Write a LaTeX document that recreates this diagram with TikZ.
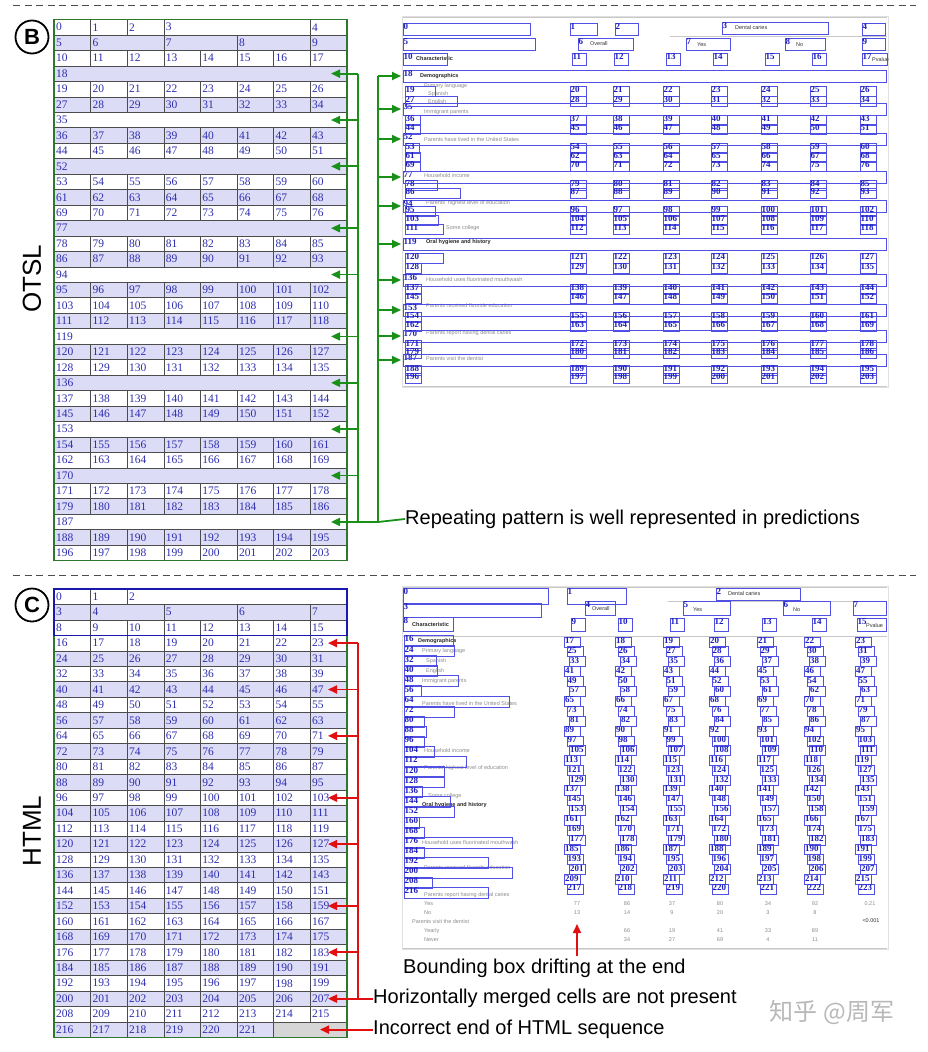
\documentclass[tikz,border=0pt]{standalone}
\usepackage{fontspec}
\setmainfont{Liberation Serif}
\setsansfont{Liberation Sans}
\newfontfamily\cjk{Noto Sans CJK SC}
\usetikzlibrary{arrows.meta}
\definecolor{numblue}{RGB}{45,45,175}
\definecolor{rowshade}{RGB}{220,220,246}
\definecolor{tgreen}{RGB}{45,120,45}
\definecolor{hblue}{RGB}{25,25,175}
\definecolor{boxblue}{RGB}{80,80,228}
\definecolor{labblue}{RGB}{30,30,190}
\definecolor{arrgreen}{RGB}{25,145,25}
\definecolor{arrred}{RGB}{225,15,15}
\definecolor{cellgray}{RGB}{214,214,214}
\tikzset{
  tnum/.style={anchor=west,inner sep=0pt,text=numblue,font=\fontsize{11.5}{12}\selectfont},
  gridln/.style={draw=black!70,line width=0.6pt},
  bbox/.style={draw=boxblue,line width=0.9pt},
  blab/.style={anchor=north west,inner sep=0.3pt,text=labblue,font=\bfseries\fontsize{9}{9}\selectfont},
  dtext/.style={anchor=west,inner sep=0pt,text=black!45,font=\sffamily\fontsize{5.5}{6}\selectfont},
  dval/.style={inner sep=0pt,text=black!45,font=\sffamily\fontsize{5.5}{6}\selectfont},
  dhead/.style={anchor=west,inner sep=0pt,text=black!85,font=\sffamily\bfseries\fontsize{5.5}{6}\selectfont},
  drule/.style={draw=black!22,line width=0.7pt},
  gline/.style={draw=arrgreen,line width=1.8pt},
  garr/.style={gline,-{Triangle[length=9pt,width=8pt]}},
  rline/.style={draw=arrred,line width=1.8pt},
  rarr/.style={rline,-{Triangle[length=9pt,width=8pt]}},
  notetext/.style={anchor=west,inner sep=0pt,font=\sffamily\fontsize{20}{21}\selectfont},
  sidetext/.style={font=\sffamily\fontsize{26}{26}\selectfont,rotate=90,inner sep=0pt},
  circlbl/.style={circle,draw,line width=1.8pt,minimum size=33pt,inner sep=0pt,font=\sffamily\bfseries\fontsize{22}{22}\selectfont},
  dashsep/.style={draw=black!70,line width=0.9pt,dash pattern=on 7pt off 4.5pt},
}
\def\rh{15.46}
\def\cw{36.6}
\def\ty{19.5}
\newcommand\fullrow[3]{%
  \pgfmathsetmacro\yt{\ty+#2*\rh}%
  \foreach \c in {0,...,7}{%
    \pgfmathtruncatemacro\n{#3+\c}%
    \node[tnum] (#1\n) at ({54+\c*\cw+1.8},{\yt+\rh/2}) {\n};}%
  \foreach \c in {1,...,7}{\draw[gridln] ({54+\c*\cw},\yt) -- ++(0,\rh);}%
}
\newcommand\cellat[4]{\node[tnum] (#1#4) at ({54+#3*\cw+1.8},{\ty+#2*\rh+\rh/2}) {#4};}
\newcommand\vsep[2]{\draw[gridln] ({54+#2*\cw},{\ty+#1*\rh}) -- ++(0,\rh);}
\newcommand\bb[6]{%
  \draw[bbox] ({#2},{#3}) rectangle ({#4},{#5});
  \node[blab] (#1#6) at ({#2},{#3}) {#6};}
\newcommand\brow[4]{%
  \pgfmathsetmacro\yy{#2}%
  \bb{#1}{405}{\yy-5}{405+#4}{\yy+5}{#3}%
  \foreach \i/\xx in {1/578,2/621,3/671,4/719,5/769,6/818,7/868}{%
    \pgfmathtruncatemacro\n{#3+\i}%
    \bb{#1}{\xx-8}{\yy-5}{\xx+8}{\yy+5}{\n}}%
}
\newcommand\crow[2]{%
  \pgfmathtruncatemacro\lab{16+8*#1}%
  \pgfmathsetmacro\yl{641+10.08*#1}%
  \pgfmathsetmacro\yv{642+9.9*#1}%
  \pgfmathsetmacro\xo{2.5*mod(#1,3)-2.5}%
  \bb{dC}{404}{\yl-5.5}{404+#2}{\yl+5.5}{\lab}%
  \foreach \i/\xx in {1/575,2/626,3/674,4/720,5/768,6/815,7/866}{%
    \pgfmathtruncatemacro\n{\lab+\i}%
    \bb{dC}{\xx-8+\xo}{\yv-5}{\xx+8+\xo}{\yv+5}{\n}}%
}
\begin{document}
\begin{tikzpicture}[x=1pt,y=-1pt]
\useasboundingbox (0,0) rectangle (927,1052);
\fill[white] (0,0) rectangle (927,1052);
% separators and panel labels
\coordinate (s1a) at (13,5); \coordinate (s1b) at (916,5);
\draw[dashsep] (s1a) -- (s1b);
\coordinate (s2a) at (13,575); \coordinate (s2b) at (916,575);
\draw[dashsep] (s2a) -- (s2b);
\node[circlbl] (lb) at (32,37) {B};
\node[circlbl] (lc) at (32,605) {C};
\node[sidetext] (otsl) at (32,279) {OTSL};
\node[sidetext] (html) at (32,831) {HTML};

% ================= B table =================
\def\ty{19.5}
\foreach \r in {1,3,...,33} \fill[rowshade] (54,{\ty+\r*\rh}) rectangle (347,{\ty+(\r+1)*\rh});
\foreach \r in {1,...,34} \draw[gridln] (54,{\ty+\r*\rh}) -- (347,{\ty+\r*\rh});
\cellat{b}{0}{0}{0}\cellat{b}{0}{1}{1}\cellat{b}{0}{2}{2}\cellat{b}{0}{3}{3}\cellat{b}{0}{7}{4}
\vsep{0}{1}\vsep{0}{2}\vsep{0}{3}\vsep{0}{7}
\cellat{b}{1}{0}{5}\cellat{b}{1}{1}{6}\cellat{b}{1}{3}{7}\cellat{b}{1}{5}{8}\cellat{b}{1}{7}{9}
\vsep{1}{1}\vsep{1}{3}\vsep{1}{5}\vsep{1}{7}
\foreach \rr/\ss in {2/10,4/19,5/27,7/36,8/44,10/53,11/61,12/69,14/78,15/86,17/95,18/103,19/111,21/120,22/128,24/137,25/145,27/154,28/162,30/171,31/179,33/188,34/196}{\fullrow{b}{\rr}{\ss}}
\foreach \rr/\ss in {3/18,6/35,9/52,13/77,16/94,20/119,23/136,26/153,29/170,32/187}{\node[tnum] (b\ss) at (55.8,{\ty+(\rr+0.5)*\rh}) {\ss};}
\draw[draw=tgreen,line width=1.6pt] (54,\ty) rectangle (347,{\ty+35*\rh});

% ================= B document =================
\draw[draw=black!12,line width=0.6pt] (402,16) rectangle (888,387);
\draw[drule] (403,17) -- (887,17);
\draw[drule] (670,36) -- (887,36);
\draw[drule] (403,386) -- (887,386);
\node[dtext,text=black!80] (bdc) at (735,28) {Dental caries};
\node[dtext,text=black!80] (bov) at (590,44) {Overall};
\node[dtext,text=black!80] (bye) at (697,45) {Yes};
\node[dtext,text=black!80] (bno) at (796,45) {No};
\node[dhead] (bch) at (416,59) {Characteristic};
\node[dtext,text=black!80] (bpv) at (872,60) {Pvalue};
\bb{dB}{403}{23}{530}{35}{0}
\bb{dB}{570}{23}{597}{35}{1}
\bb{dB}{615}{23}{638}{35}{2}
\bb{dB}{722}{22}{828}{34}{3}
\bb{dB}{862}{23}{885}{35}{4}
\bb{dB}{403}{38}{535}{50}{5}
\bb{dB}{578}{38}{633}{50}{6}
\bb{dB}{686}{38}{730}{50}{7}
\bb{dB}{785}{38}{825}{50}{8}
\bb{dB}{862}{38}{885}{50}{9}
\bb{dB}{403}{53}{447}{65}{10}
\foreach \i/\xa in {11/572,12/614,13/666,14/713,15/765,16/812}{\bb{dB}{\xa}{53}{\xa+14}{65}{\i}}
\bb{dB}{862}{53}{887}{65}{17}
% section text
\node[dhead] (bt1) at (420,76) {Demographics};
\node[dtext] (bt2) at (424,86) {Primary language};
\node[dtext] (bt3) at (428,94) {Spanish};
\node[dtext] (bt4) at (428,102) {English};
\node[dtext] (bt5) at (424,112) {Immigrant parents};
\node[dtext] (bt6) at (424,140) {Parents have lived in the United States};
\node[dtext] (bt7) at (424,176) {Household income};
\node[dtext] (bt8) at (426,203) {Parents' highest level of education};
\node[dtext] (bt9) at (446,228) {Some college};
\node[dhead] (bt10) at (426,242) {Oral hygiene and history};
\node[dtext] (bt11) at (426,280) {Household uses fluorinated mouthwash};
\node[dtext] (bt12) at (426,306) {Parents received fluoride education};
\node[dtext] (bt13) at (426,333) {Parents report having dental caries};
\node[dtext] (bt14) at (426,359) {Parents visit the dentist};
% section boxes
\foreach \ss/\d in {18/76,35/109,52/139,77/177,94/206,119/244,136/280,153/310,170/336,187/360}{\bb{dB}{403}{\d-6}{886}{\d+6}{\ss}}
% value rows
\brow{dB}{91}{19}{30}
\brow{dB}{101}{27}{52}
\brow{dB}{120}{36}{15}
\brow{dB}{129}{44}{15}
\brow{dB}{148}{53}{14}
\brow{dB}{157}{61}{15}
\brow{dB}{166}{69}{15}
\brow{dB}{185}{78}{32}
\brow{dB}{193}{86}{55}
\brow{dB}{211}{95}{30}
\brow{dB}{220}{103}{33}
\brow{dB}{229}{111}{38}
\brow{dB}{258}{120}{38}
\brow{dB}{268}{128}{16}
\brow{dB}{289}{137}{16}
\brow{dB}{298}{145}{16}
\brow{dB}{317}{154}{16}
\brow{dB}{326}{162}{16}
\brow{dB}{345}{171}{16}
\brow{dB}{353}{179}{16}
\brow{dB}{370}{188}{16}
\brow{dB}{378}{196}{16}

% ================= B arrows =================
\foreach \rr/\ss/\d in {3/18/76,6/35/109,9/52/139,13/77/177,16/94/206,20/119/244,23/136/280,26/153/310,29/170/336,32/187/360}{%
  \coordinate (bj\ss) at (358,{\ty+(\rr+0.5)*\rh});
  \coordinate (bt\ss) at (331,{\ty+(\rr+0.5)*\rh});
  \coordinate (dk\ss) at (378,\d);
  \coordinate (dt\ss) at (401,\d);
}
\coordinate (bjoin) at (378,522);
\node[notetext] (rep) at (405,519) {Repeating pattern is well represented in predictions};
\draw[gline] (bj18) -- (bj187);
\draw[gline] (dk18) -- (bjoin);
\draw[gline] (bj187) -- (bjoin) -- (rep.west);
\foreach \ss in {18,35,52,77,94,119,136,153,170,187}{%
  \draw[garr] (bj\ss) -- (bt\ss);
  \draw[garr] (dk\ss) -- (dt\ss);
}

% ================= C table =================
\def\ty{589}
\fill[rowshade] (54,{\ty+\rh}) rectangle (347,{\ty+2*\rh});
\foreach \r in {4,6,...,28} \fill[rowshade] (54,{\ty+\r*\rh}) rectangle (347,{\ty+(\r+1)*\rh});
\fill[cellgray] ({54+6*\cw},{\ty+28*\rh}) rectangle (347,{\ty+29*\rh});
\foreach \r in {1,...,28} \draw[gridln] (54,{\ty+\r*\rh}) -- (347,{\ty+\r*\rh});
\cellat{c}{0}{0}{0}\cellat{c}{0}{1}{1}\cellat{c}{0}{2}{2}
\vsep{0}{1}\vsep{0}{2}
\cellat{c}{1}{0}{3}\cellat{c}{1}{1}{4}\cellat{c}{1}{3}{5}\cellat{c}{1}{5}{6}\cellat{c}{1}{7}{7}
\vsep{1}{1}\vsep{1}{3}\vsep{1}{5}\vsep{1}{7}
\fullrow{c}{2}{8}
\foreach \rr in {3,...,27}{\pgfmathtruncatemacro\ss{16+8*(\rr-3)}\fullrow{c}{\rr}{\ss}}
\foreach \cc in {0,...,5}{\pgfmathtruncatemacro\ss{216+\cc}\cellat{c}{28}{\cc}{\ss}}
\foreach \cc in {1,...,6}{\vsep{28}{\cc}}
\draw[draw=tgreen,line width=1.6pt] (54,{\ty+3*\rh}) rectangle (347,{\ty+29*\rh});
\draw[draw=hblue,line width=1.6pt] (54,\ty) rectangle (347,{\ty+3*\rh});

% ================= C document =================
\draw[draw=black!12,line width=0.6pt] (402,586) rectangle (888,949);
\draw[drule] (403,587) -- (887,587);
\draw[drule] (668,601) -- (887,601);
\draw[drule] (403,636) -- (887,636);
\draw[drule] (403,948) -- (887,948);
\node[dtext,text=black!80] (cdc) at (728,594) {Dental caries};
\node[dtext,text=black!80] (cov) at (592,609) {Overall};
\node[dtext,text=black!80] (cye) at (693,610) {Yes};
\node[dtext,text=black!80] (cno) at (793,610) {No};
\node[dhead] (cch) at (412,625) {Characteristic};
\node[dtext,text=black!80] (cpv) at (866,626) {Pvalue};
\bb{dC}{403}{588}{548}{604}{0}
\bb{dC}{567}{588}{626}{604}{1}
\bb{dC}{716}{588}{800}{600}{2}
\bb{dC}{403}{603}{541}{617}{3}
\bb{dC}{585}{601}{615}{615}{4}
\bb{dC}{683}{601}{730}{615}{5}
\bb{dC}{783}{601}{830}{615}{6}
\bb{dC}{853}{601}{886}{615}{7}
\bb{dC}{403}{617}{453}{631}{8}
\foreach \i/\xa in {9/571,10/618,11/670,12/714,13/762,14/812}{\bb{dC}{\xa}{618}{\xa+14}{631}{\i}}
\bb{dC}{857}{618}{886}{631}{15}
% left column text
\node[dhead] (ct1) at (418,641) {Demographics};
\node[dtext] (ct2) at (422,651) {Primary language};
\node[dtext] (ct3) at (426,661) {Spanish};
\node[dtext] (ct4) at (426,671) {English};
\node[dtext] (ct5) at (422,681) {Immigrant parents};
\node[dtext] (ct6) at (422,704) {Parents have lived in the United States};
\node[dtext] (ct7) at (424,751) {Household income};
\node[dtext] (ct8) at (424,768) {Parents' highest level of education};
\node[dtext] (ct9) at (428,796) {Some college};
\node[dhead] (ct10) at (422,805) {Oral hygiene and history};
\node[dtext] (ct11) at (422,843) {Household uses fluorinated mouthwash};
\node[dtext] (ct12) at (424,868) {Parents received fluoride education};
\node[dtext] (ct13) at (424,895) {Parents report having dental caries};
\node[dtext] (ct14) at (424,904) {Yes};
\node[dtext] (ct15) at (424,913) {No};
\node[dtext] (ct16) at (412,922) {Parents visit the dentist};
\node[dtext] (ct17) at (424,931) {Yearly};
\node[dtext] (ct18) at (424,940) {Never};
\foreach \xx/\v in {577/77,627/86,672/37,720/80,768/34,815/92,870/0.21}{\node[dval] (cy\xx) at (\xx,904) {\v};}
\foreach \xx/\v in {577/13,627/14,672/9,720/20,768/3,815/8}{\node[dval] (cn\xx) at (\xx,913) {\v};}
\node[dval,text=black!80] (cp2) at (871,921) {<0.001};
\foreach \xx/\v in {627/66,672/19,720/41,768/33,815/89}{\node[dval] (cyr\xx) at (\xx,931) {\v};}
\foreach \xx/\v in {627/34,672/27,720/69,768/4,815/11}{\node[dval] (cnv\xx) at (\xx,940) {\v};}
% drifting rows
\foreach \k/\w in {0/49,1/50,2/32,3/33,4/54,5/17,6/105,7/50,8/20,9/22,10/20,11/30,12/62,13/40,14/40,15/18,16/46,17/50,18/15,19/20,20/108,21/20,22/84,23/108,24/28,25/84}{\crow{\k}{\w}}

% ================= C arrows =================
\foreach \rr/\ss in {3/23,6/47,9/71,13/103,16/127,20/159,23/183,26/207}{%
  \coordinate (cj\ss) at (358,{\ty+(\rr+0.5)*\rh});
  \coordinate (ct\ss) at (328,{\ty+(\rr+0.5)*\rh});
}
\coordinate (ct216) at (320,{\ty+28.5*\rh});
\node[notetext] (hm) at (373,{\ty+26.5*\rh}) {Horizontally merged cells are not present};
\node[notetext] (ie) at (373,{\ty+28.5*\rh}) {Incorrect end of HTML sequence};
\node[notetext] (bd) at (403,968) {Bounding box drifting at the end};
\draw[rline] (cj23) -- (cj207);
\foreach \ss in {23,47,71,103,127,159,183}{\draw[rarr] (cj\ss) -- (ct\ss);}
\draw[rarr] (hm.west) -- (ct207);
\draw[rarr] (ie.west) -- (ct216);
\coordinate (dr0) at (577,956);
\coordinate (dr1) at (577,924);
\draw[rarr] (dr0) -- (dr1);

% watermark
\node[text=black!28,font=\cjk\fontsize{24}{25}\selectfont,inner sep=0pt] (wm) at (832,1012) {知乎 @周军};
\end{tikzpicture}
\end{document}
